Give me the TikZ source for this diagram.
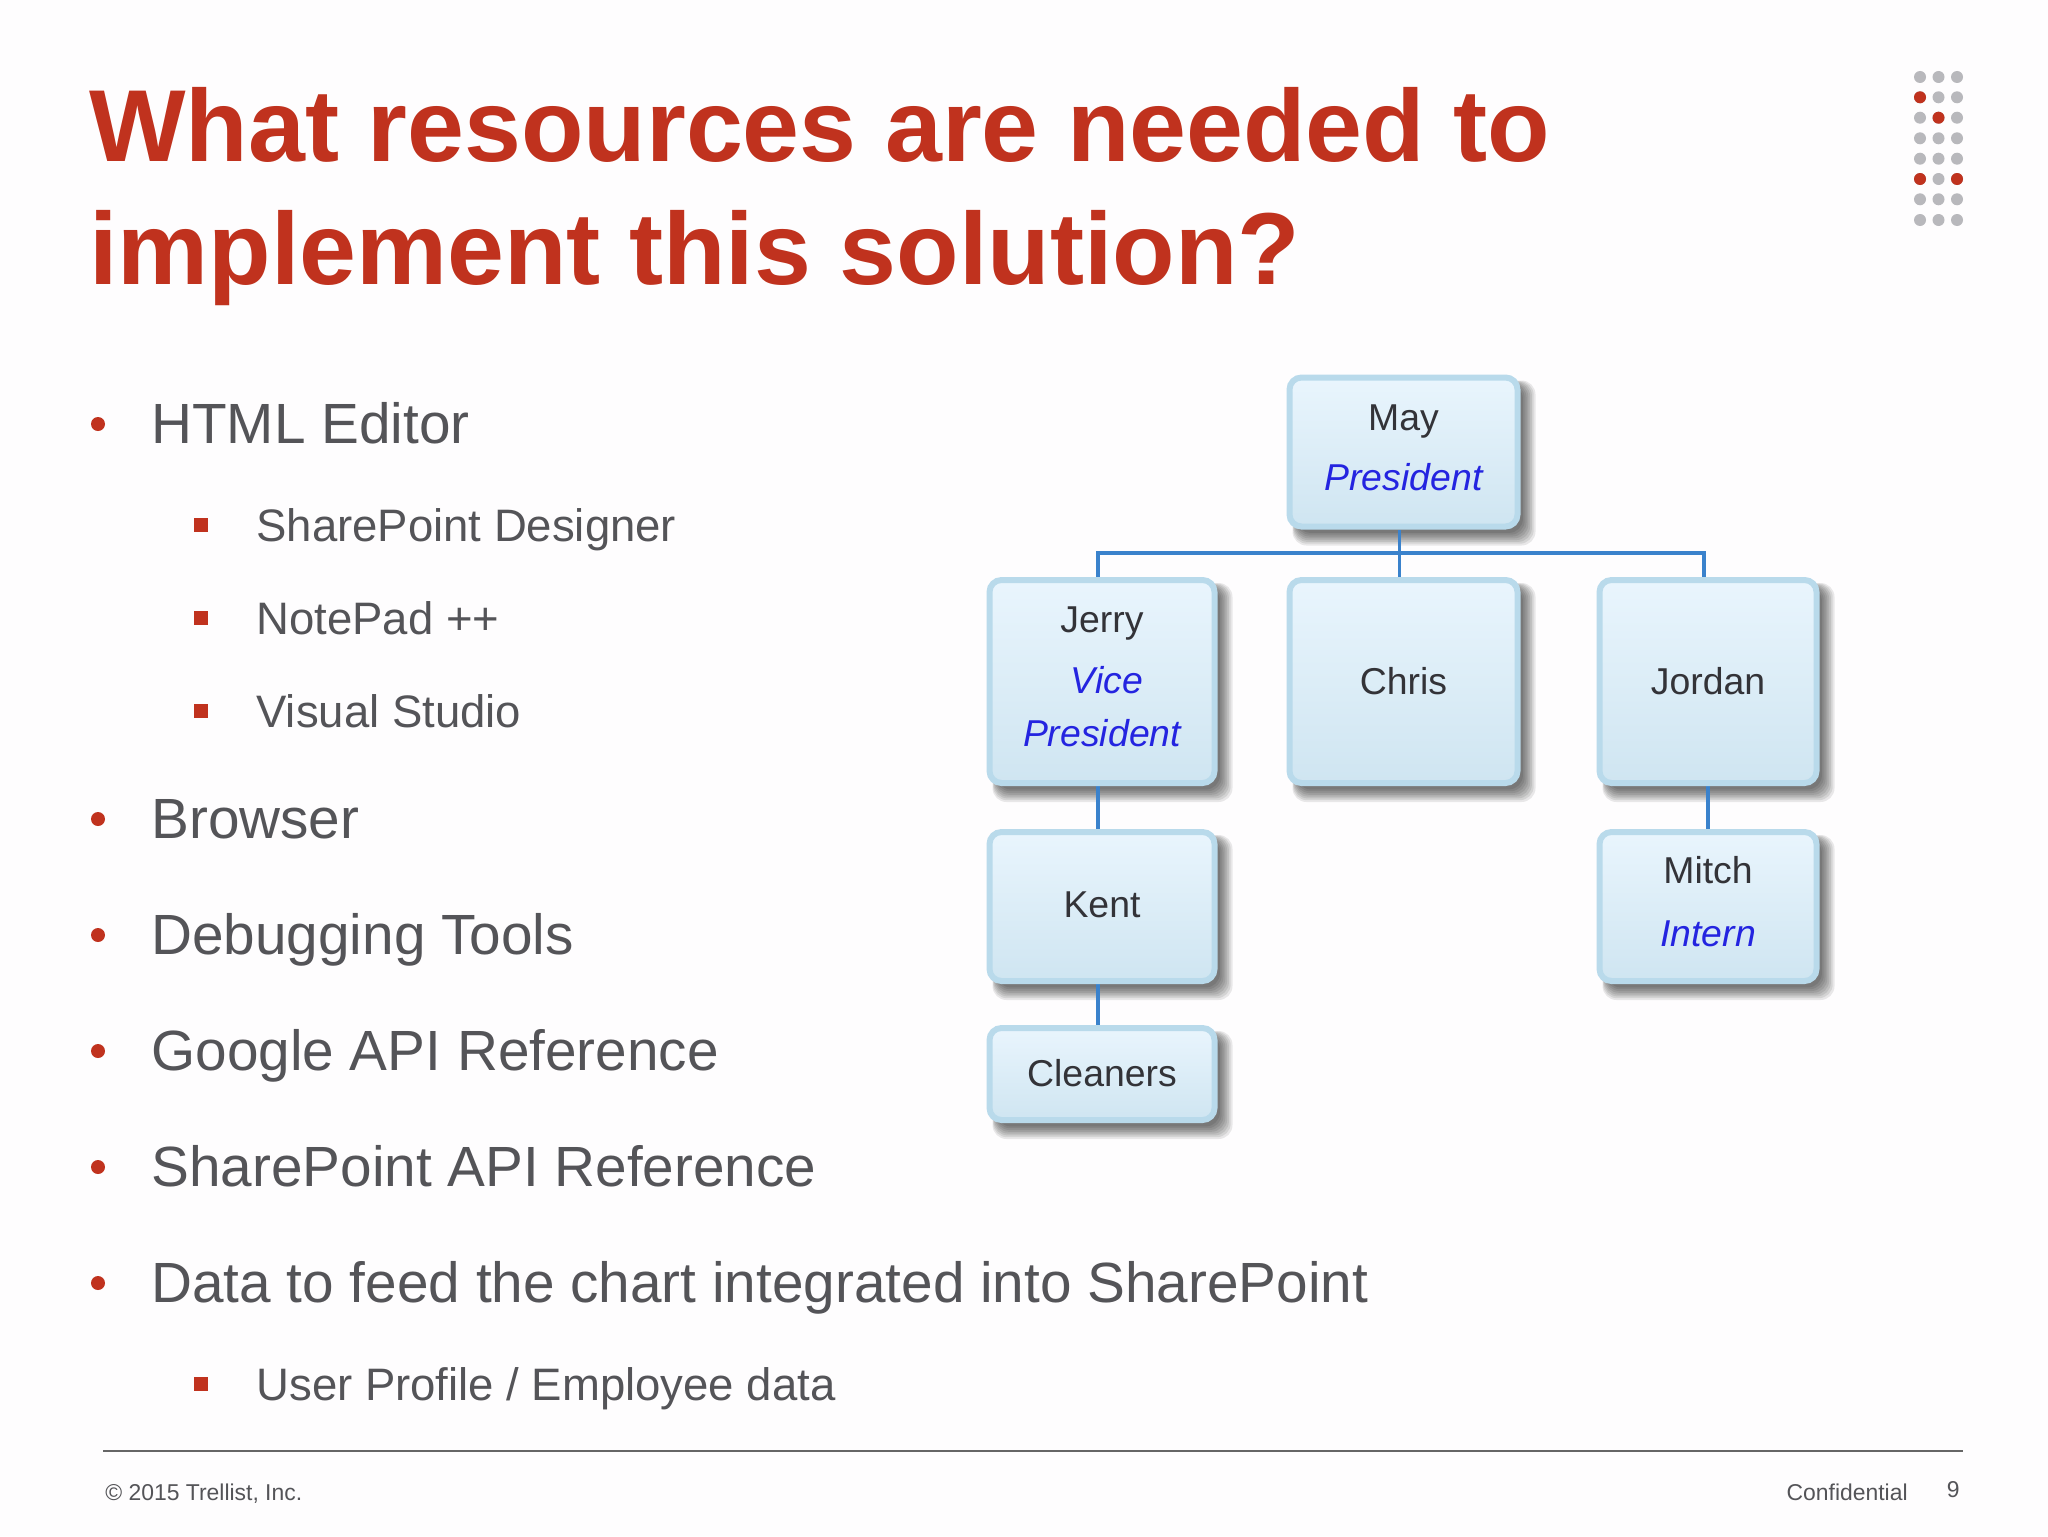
\documentclass[tikz,border=0pt]{standalone}
\usepackage{fontspec}
\setmainfont{Liberation Sans}
\usetikzlibrary{backgrounds,calc}
\definecolor{titlered}{HTML}{C0321E}
\definecolor{bodygray}{HTML}{545458}
\definecolor{dotgray}{HTML}{B8B8BC}
\definecolor{boxedge}{HTML}{B9DAEB}
\definecolor{boxtop}{HTML}{E9F5FD}
\definecolor{boxbot}{HTML}{CFE5F1}
\definecolor{linkblue}{HTML}{3A82CC}
\definecolor{roleblue}{HTML}{2424E0}
\definecolor{boxtext}{HTML}{333338}
\definecolor{slidebg}{HTML}{FEFDFE}
\tikzset{
  titletext/.style={anchor=base west,inner sep=0pt,text=titlered,font=\fontsize{51.15}{60}\selectfont\bfseries},
  lvlone/.style={anchor=base west,inner sep=0pt,text=bodygray,font=\fontsize{28.35}{34}\selectfont},
  lvltwo/.style={anchor=base west,inner sep=0pt,text=bodygray,font=\fontsize{22.75}{28}\selectfont},
  footnote/.style={inner sep=0pt,text=bodygray,font=\fontsize{11.45}{14}\selectfont},
  dotnode/.style={circle,inner sep=0pt,minimum size=6pt,fill=#1},
  roundbullet/.style={circle,inner sep=0pt,minimum size=7pt,fill=titlered},
  squarebullet/.style={rectangle,inner sep=0pt,minimum size=7pt,fill=titlered},
  orgbox/.style n args={2}{rectangle,rounded corners=6pt,draw=boxedge,line width=3pt,
     top color=boxtop,bottom color=boxbot,minimum width=#1,minimum height=#2,inner sep=0pt,
     text=boxtext,font=\fontsize{18.7}{20}\selectfont},
  link/.style={draw=linkblue,line width=1.6pt}
}
\newcommand{\rolet}[1]{\textcolor{roleblue}{\itshape #1}}
\newcommand{\softshadow}[1]{%
  \foreach \s in {0,1,...,7}{%
    \pgfmathsetmacro{\e}{7.5-\s*0.9}
    \fill[black,opacity=.085,rounded corners=7pt]
      ([shift={(\s pt*0.3+3pt,-\s pt*0.3-3pt)}]#1.north west) rectangle ([shift={(\e pt,-\e pt-0.5pt)}]#1.south east);
  }}
\begin{document}
\begin{tikzpicture}[x=0.5pt,y=-0.5pt]
\useasboundingbox (0,0) rectangle (2048,1536);

% title
\node[titletext] (t1) at (89,162) {What resources are needed to};
\node[titletext] (t2) at (89,284.5) {implement this solution?};

% dot grid
\foreach \r/\yy in {1/77,2/97.3,3/117.7,4/138.3,5/158.7,6/179,7/199.3,8/220}{
  \foreach \c/\xx in {1/1920,2/1938.5,3/1957}{
    \node[dotnode=dotgray] (d\r\c) at (\xx,\yy) {};
  }}
\node[dotnode=titlered] (r1) at (1920,97.3) {};
\node[dotnode=titlered] (r2) at (1938.5,117.7) {};
\node[dotnode=titlered] (r3) at (1920,179) {};
\node[dotnode=titlered] (r4) at (1957,179) {};

% bullets
\node[roundbullet] (b1) at (98,424) {};
\node[lvlone] (l1) at (151,443) {HTML Editor};
\node[squarebullet] (s1) at (201,525) {};
\node[lvltwo] (m1) at (256,541) {SharePoint Designer};
\node[squarebullet] (s2) at (201,618) {};
\node[lvltwo] (m2) at (256,634) {NotePad ++};
\node[squarebullet] (s3) at (201,711) {};
\node[lvltwo] (m3) at (256,727) {Visual Studio};
\node[roundbullet] (b2) at (98,819) {};
\node[lvlone] (l2) at (151,838) {Browser};
\node[roundbullet] (b3) at (98,935) {};
\node[lvlone] (l3) at (151,954) {Debugging Tools};
\node[roundbullet] (b4) at (98,1051) {};
\node[lvlone] (l4) at (151,1070) {Google API Reference};
\node[roundbullet] (b5) at (98,1167) {};
\node[lvlone] (l5) at (151,1186) {SharePoint API Reference};
\node[roundbullet] (b6) at (98,1283) {};
\node[lvlone] (l6) at (151,1302) {Data to feed the chart integrated into SharePoint};
\node[squarebullet] (s4) at (201,1384) {};
\node[lvltwo] (m4) at (256,1400) {User Profile / Employee data};

% org chart
\node[orgbox={114pt}{74.5pt}] (may) at (1403.5,452)
  {\raisebox{1.8pt}{\begin{tabular}{@{}c@{}}May\\[10pt]\rolet{President}\end{tabular}}};
\node[orgbox={112.5pt}{101.5pt}] (jerry) at (1102,681.5)
  {\raisebox{2.5pt}{\begin{tabular}{@{}c@{}}Jerry\\[10.5pt]\rolet{\hspace{5pt}Vice}\\[6.5pt]\rolet{President}\end{tabular}}};
\node[orgbox={114pt}{101.5pt}] (chris) at (1403.5,681.5) {\raisebox{0.6pt}{Chris}};
\node[orgbox={108.5pt}{101.5pt}] (jordan) at (1708,681.5) {\raisebox{0.6pt}{Jordan}};
\node[orgbox={112.5pt}{74.5pt}] (kent) at (1102,906.5) {\raisebox{2pt}{Kent}};
\node[orgbox={108.5pt}{74.5pt}] (mitch) at (1708,906.5)
  {\raisebox{2.7pt}{\begin{tabular}{@{}c@{}}Mitch\\[11.5pt]\rolet{Intern}\end{tabular}}};
\node[orgbox={112.5pt}{46pt}] (cleaners) at (1102,1074) {\raisebox{1.3pt}{Cleaners}};
\coordinate (bus) at (1399,553);

\begin{pgfonlayer}{background}
  \fill[slidebg] (0,0) rectangle (2048,1536);
  \softshadow{may}\softshadow{jerry}\softshadow{chris}\softshadow{jordan}
  \softshadow{kent}\softshadow{mitch}\softshadow{cleaners}
  \draw[link] ([xshift=-2pt]may.south) -- ([xshift=-2pt]chris.north);
  \draw[link] ([xshift=-2pt]jerry.north) |- (bus) -| ([xshift=-2pt]jordan.north);
  \draw[link] ([xshift=-2pt]jerry.south) -- ([xshift=-2pt]kent.north);
  \draw[link] (jordan.south) -- (mitch.north);
  \draw[link] ([xshift=-2pt]kent.south) -- ([xshift=-2pt]cleaners.north);
\end{pgfonlayer}

% footer
\coordinate (ruleL) at (103,1451);
\coordinate (ruleR) at (1963,1451);
\draw[draw=black!60,line width=1pt] (ruleL) -- (ruleR);
\node[footnote,anchor=base west] (f1) at (105,1500) {© 2015 Trellist, Inc.};
\node[footnote,anchor=base east] (f2) at (1908,1500) {Confidential};
\node[footnote,anchor=base east] (f3) at (1960,1497) {9};
\end{tikzpicture}
\end{document}
